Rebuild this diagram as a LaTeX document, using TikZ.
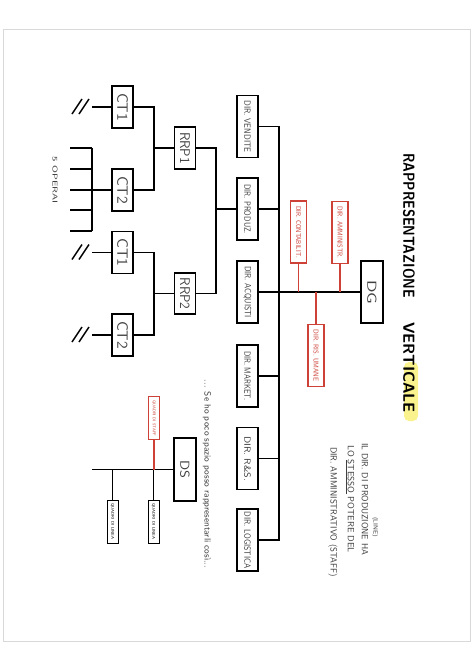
\documentclass[tikz,border=0pt]{standalone}
\usepackage{graphicx}
\newcommand\rt[3]{\rotatebox{-90}{\resizebox{#1}{\height}{\fontsize{#2}{#2}\selectfont #3}}}
\definecolor{stafred}{RGB}{205,65,55}
\definecolor{hiyel}{RGB}{250,242,140}
\begin{document}
\begin{tikzpicture}[x=1pt,y=-1pt,font=\sffamily,
  box/.style={draw,line width=1.4pt,inner sep=0pt,minimum width=21pt,minimum height=62pt,text=black!75},
  cbox/.style={box,minimum height=42pt},
  rbox/.style={draw=stafred,line width=1.2pt,inner sep=0pt,minimum width=16pt,minimum height=62pt,text=stafred},
  sbox/.style={draw,line width=1pt,inner sep=0pt,minimum width=11pt,minimum height=43pt},
  srbox/.style={sbox,draw=stafred,text=stafred},
  conn/.style={line width=1.4pt},
  rconn/.style={line width=1.3pt,draw=stafred},
  lbl/.style={inner sep=0pt,text=black!75}]
\useasboundingbox (0,0) rectangle (474,670);
\fill[white] (0,0) rectangle (474,670);
\draw[gray!30,line width=1pt] (3,29) rectangle (470,641);
% highlight
\fill[hiyel,rounded corners=5pt] (404,362) rectangle (418,421);
% title and notes
\node[lbl,text=black] (t1) at (409,225.5) {\rt{145pt}{16}{\bfseries RAPPRESENTAZIONE}};
\node[lbl,text=black] (t2) at (409,367.5) {\rt{91pt}{16}{\bfseries VERTICALE}};
\node[lbl] (n1) at (365,499) {\rt{112pt}{9}{IL DIR. DI PRODUZIONE HA}};
\node[lbl] (n0) at (375,527) {\rt{20pt}{6}{(LINE)}};
\node[lbl] (n2) at (350,499) {\rt{108pt}{9}{LO \underline{STESSO} POTERE DEL}};
\node[lbl] (n3) at (333,512) {\rt{130pt}{9}{DIR. AMMINISTRATIVO (STAFF)}};
\node[lbl] (n4) at (55,180) {\rt{47pt}{7}{5 OPERAI}};
\node[lbl] (n5) at (207,474) {\rt{188pt}{9}{... Se ho poco spazio posso rappresentarli così...}};
% DG and directors
\node[box,minimum width=22pt] (dg) at (372,292) {\rt{24pt}{13}{DG}};
\node[box] (dv) at (247.5,126.5) {\rt{52pt}{9}{DIR. VENDITE}};
\node[box] (dp) at (247.5,209) {\rt{50pt}{9}{DIR. PRODUZ.}};
\node[box] (da) at (247.5,292) {\rt{52pt}{9}{DIR. ACQUISTI}};
\node[box] (dm) at (247.5,376) {\rt{50pt}{9}{DIR. MARKET.}};
\node[box] (dr) at (247.5,458.5) {\rt{45pt}{9}{DIR. R\&S.}};
\node[box] (dl) at (247.5,540) {\rt{57pt}{9}{DIR. LOGISTICA}};
% staff
\node[rbox] (sc) at (298.5,232) {\rt{52pt}{7}{DIR. CONTABILIT.}};
\node[rbox] (sa) at (340,232.5) {\rt{52pt}{7}{DIR. AMMINISTR.}};
\node[rbox] (su) at (316,355.5) {\rt{52pt}{7}{DIR. RIS. UMANE}};
% reparti
\node[box,minimum height=42pt] (r1) at (185,148) {\rt{32pt}{14}{RRP1}};
\node[box,minimum height=41pt] (r2) at (185,293.5) {\rt{32pt}{14}{RRP2}};
\node[cbox] (c1a) at (122.5,107) {\rt{28pt}{15}{CT1}};
\node[cbox] (c2a) at (122.5,190) {\rt{28pt}{15}{CT2}};
\node[cbox] (c1b) at (122.5,252.5) {\rt{28pt}{15}{CT1}};
\node[cbox] (c2b) at (122.5,335) {\rt{28pt}{15}{CT2}};
% DS
\node[box,minimum width=22pt,minimum height=63pt] (ds) at (185,469.5) {\rt{18pt}{13}{DS}};
\node[sbox] (ql) at (112.5,521.5) {\rt{36pt}{4}{QUADRI DI LINEA}};
\node[sbox] (qs) at (153.5,521.5) {\rt{36pt}{4}{QUADRI DI LINEA}};
\node[srbox] (qr) at (154,418) {\rt{36pt}{4}{QUADRI DI STAFF}};
% helper coordinates
\coordinate (spx) at (279,0);
\coordinate (jx) at (216,0);
\coordinate (kx) at (154,0);
\coordinate (ov) at (92,0);
\coordinate (dsx) at (92,0);
% spine
\draw[conn] (dv.east) -| (dl.east -| spx) -- (dl.east);
\draw[conn] (dp.east) -- (dp.east -| spx);
\draw[conn] (dm.east) -- (dm.east -| spx);
\draw[conn] (dr.east) -- (dr.east -| spx);
\draw[conn] (da.east) -- (dg.west);
% staff connectors
\draw[rconn] (sc.south) -- (sc.south |- dg.west);
\draw[rconn] (sa.south) -- (sa.south |- dg.west);
\draw[rconn] (su.north) -- (su.north |- dg.west);
% reparti
\draw[conn] (r1.east) -| (r2.east -| jx) -- (r2.east);
\draw[conn] (dp.west) -- (dp.west -| jx);
\draw[conn] (c1a.east) -| (c2a.east -| kx) -- (c2a.east);
\draw[conn] (r1.west) -- (r1.west -| kx);
\draw[conn] (c1b.east) -| (c2b.east -| kx) -- (c2b.east);
\draw[conn] (r2.west) -- (r2.west -| kx);
% operai
\coordinate (o1) at (70,148);
\coordinate (o2) at (70,169);
\coordinate (o3) at (70,190);
\coordinate (o4) at (70,210);
\coordinate (o5) at (70,231);
\draw[conn] (c2a.west) -- (o3);
\draw[conn] (o1 -| ov) -- (o5 -| ov);
\foreach \o in {o1,o2,o4,o5} \draw[conn] (\o) -- (\o -| ov);
% other CT lines with slashes
\foreach \c in {c1a,c1b,c2b}{
  \draw[conn] (\c.west) -- (\c.west -| ov) coordinate (\c-l);
  \draw[conn] ([shift={(-20,7)}]\c-l) -- ([shift={(-10,-8)}]\c-l);
  \draw[conn] ([shift={(-13,7)}]\c-l) -- ([shift={(-3,-8)}]\c-l);
}
% DS section
\draw[conn] (ds.west) -- (ds.west -| dsx);
\draw[conn] (ql.north) -- (ql.north |- ds.west);
\draw[conn] (qs.north) -- (qs.north |- ds.west);
\draw[rconn] (qr.south) -- (qr.south |- ds.west);
\end{tikzpicture}
\end{document}
